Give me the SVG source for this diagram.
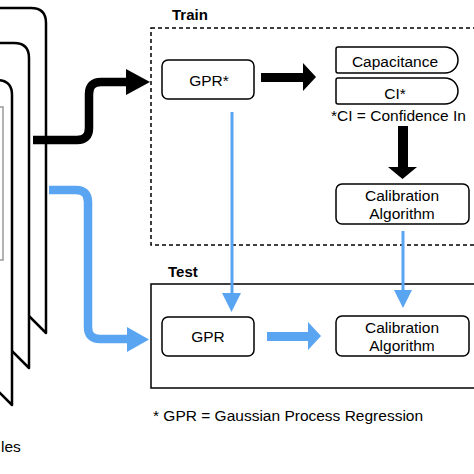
<svg xmlns="http://www.w3.org/2000/svg" width="474" height="474" viewBox="0 0 474 474">
<defs>
<style>
.page{fill:#fff;stroke:#000;stroke-width:2.5;stroke-linejoin:round}
.box{fill:#fff;stroke:#000;stroke-width:1.5}
.t{font-family:"Liberation Sans",Arial,Helvetica,sans-serif;font-size:15.5px;fill:#000}
.c{text-anchor:middle}
.h{font-family:"Liberation Sans",Arial,Helvetica,sans-serif;font-size:15px;font-weight:bold;fill:#000}
.blue{fill:#5aa5f2}
.bl{fill:none;stroke:#5aa5f2}
</style>
</defs>
<g id="stack">
<path class="page" d="M -20 8 H 31 Q 46 8 46 23 V 333 L -20 267 Z"/>
<path class="page" d="M -20 43 H 14 Q 29 43 29 58 V 368 L -20 319 Z"/>
<path class="page" d="M -20 80 H -3 Q 12 80 12 95 V 405 L -20 373 Z"/>
<rect x="-10" y="107" width="13" height="153" fill="none" stroke="#999" stroke-width="1.5"/>
<text class="t" x="1" y="452">les</text>
</g>
<g id="train">
<rect x="151" y="28" width="340" height="217" fill="none" stroke="#000" stroke-width="1.5" stroke-dasharray="4 3"/>
<text class="h" x="172" y="20">Train</text>
</g>
<g id="test">
<rect x="151" y="284" width="340" height="104" fill="none" stroke="#000" stroke-width="1.5"/>
<text class="h" x="168" y="277">Test</text>
</g>
<g id="gpr-train">
<rect class="box" x="162" y="60" width="92" height="39" rx="6"/>
<text class="t c" x="209" y="86">GPR*</text>
</g>
<g id="capacitance">
<path class="box" d="M 338 47 H 445 A 13 13 0 0 1 445 73 H 338 Q 336 73 336 71 V 49 Q 336 47 338 47 Z"/>
<text class="t c" x="395" y="67">Capacitance</text>
</g>
<g id="ci">
<path class="box" d="M 338 78 H 445 A 13 13 0 0 1 445 104 H 338 Q 336 104 336 102 V 80 Q 336 78 338 78 Z"/>
<text class="t c" x="395" y="99">CI*</text>
</g>
<text class="t" x="331" y="121">*CI = Confidence In</text>
<g id="calib-train">
<rect class="box" x="336" y="184" width="133" height="40" rx="6"/>
<text class="t c" x="402" y="201">Calibration</text>
<text class="t c" x="402" y="219">Algorithm</text>
</g>
<g id="gpr-test">
<rect class="box" x="162" y="317" width="92" height="39" rx="6"/>
<text class="t c" x="208" y="342">GPR</text>
</g>
<g id="calib-test">
<rect class="box" x="336" y="316" width="133" height="40" rx="6"/>
<text class="t c" x="402" y="333">Calibration</text>
<text class="t c" x="402" y="351">Algorithm</text>
</g>
<text class="t" x="153" y="421">* GPR = Gaussian Process Regression</text>
<g id="connectors">
<path d="M 33 140 H 77 Q 89 140 89 128 V 94 Q 89 82 101 82 H 128" fill="none" stroke="#000" stroke-width="8.5"/>
<polygon points="126,69 150,82 126,95" fill="#000"/>
<path class="bl" d="M 49 190 H 76 Q 88 190 88 202 V 327 Q 88 339 100 339 H 129" stroke-width="8.5"/>
<polygon class="blue" points="127,327 149,339.5 127,352"/>
<path d="M 261 73 H 303 V 63 L 316 77 L 303 91 V 82 H 261 Z" fill="#000"/>
<path d="M 398 126 H 408 V 167 H 417 L 402.5 179 L 388 167 H 398 Z" fill="#000"/>
<line class="bl" x1="232" y1="112" x2="232" y2="295" stroke-width="3"/>
<polygon class="blue" points="222,293 241,293 231.5,312"/>
<line class="bl" x1="403" y1="231" x2="403" y2="292" stroke-width="3"/>
<polygon class="blue" points="394,290 412,290 403,308"/>
<path class="blue" d="M 267 332 H 308 V 322 L 321 336 L 308 350 V 341 H 267 Z"/>
</g>
</svg>
